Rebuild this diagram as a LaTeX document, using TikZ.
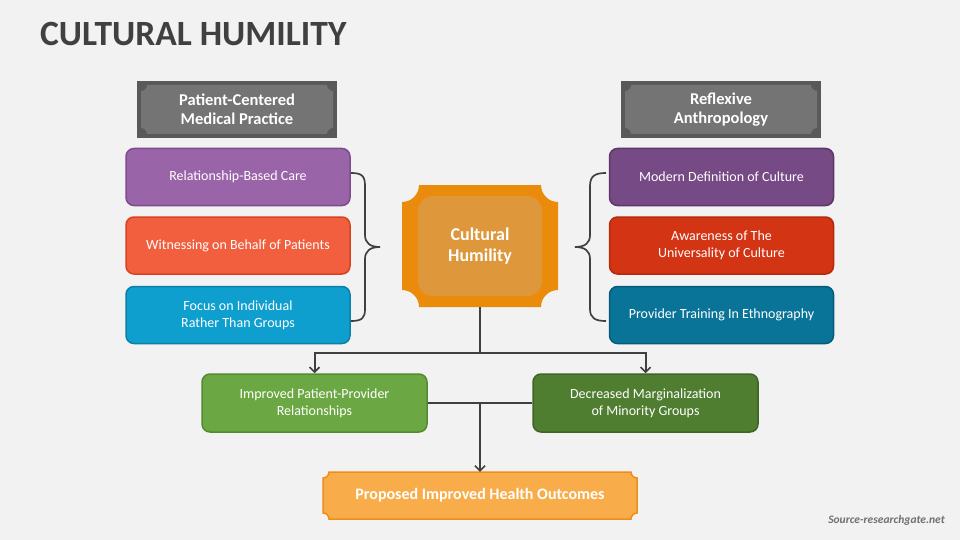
\documentclass[tikz,border=0pt]{standalone}
\usepackage{fontspec}
\setmainfont{Carlito}
\usetikzlibrary{arrows.meta}
\definecolor{bg}{HTML}{F2F2F2}
\definecolor{titlec}{HTML}{404040}
\definecolor{linec}{HTML}{404040}
\definecolor{hdout}{HTML}{595959}
\definecolor{hdin}{HTML}{747474}
\definecolor{purL}{HTML}{9A64A8}\definecolor{purLd}{HTML}{7E4C8C}
\definecolor{redL}{HTML}{F15F3F}\definecolor{redLd}{HTML}{D84222}
\definecolor{bluL}{HTML}{0E9FCF}\definecolor{bluLd}{HTML}{0C80A8}
\definecolor{purR}{HTML}{764A85}\definecolor{purRd}{HTML}{5D366B}
\definecolor{redR}{HTML}{D23414}\definecolor{redRd}{HTML}{B52A0D}
\definecolor{bluR}{HTML}{0A7398}\definecolor{bluRd}{HTML}{085C7A}
\definecolor{grnL}{HTML}{6BA843}\definecolor{grnLd}{HTML}{538B2F}
\definecolor{grnR}{HTML}{4F7E31}\definecolor{grnRd}{HTML}{3E6526}
\definecolor{orout}{HTML}{EA8B0B}
\definecolor{orin}{HTML}{DE973A}
\definecolor{orB}{HTML}{F8AD4A}\definecolor{orBd}{HTML}{EE8E1A}
\definecolor{srcc}{HTML}{707070}
\begin{document}
\begin{tikzpicture}[x=1pt,y=-1pt,
  cv/.style n args={5}{insert path={(#1+#5,#2) -- (#3-#5,#2)
     arc[start angle=180,end angle=90,radius=#5] -- (#3,#4-#5)
     arc[start angle=270,end angle=180,radius=#5] -- (#1+#5,#4)
     arc[start angle=0,end angle=-90,radius=#5] -- (#1,#2+#5)
     arc[start angle=90,end angle=0,radius=#5] -- cycle}},
  box/.style={rounded corners=8pt, line width=1.5pt, minimum width=224pt,
     minimum height=57pt, text=white, align=center, inner sep=0pt,
     font=\fontsize{14}{17}\selectfont},
  hdtext/.style={text=white, align=center, inner sep=0pt,
     font=\fontsize{16.5}{18.5}\selectfont\bfseries},
  conn/.style={draw=linec, line width=2pt},
  arr/.style={conn, -{Straight Barb[length=5pt,width=10pt,line width=1.6pt]}},
  brace/.style={draw=linec, line width=1.7pt}]
\useasboundingbox (0,0) rectangle (960,540);
\fill[bg] (0,0) rectangle (960,540);
% title
\node[anchor=base west, inner sep=0pt, text=titlec,
  font=\fontsize{35.5}{40}\selectfont\bfseries] (title) at (40,46) {CULTURAL HUMILITY};
% headers
\fill[hdout] (137,81) rectangle (337,138);
\fill[hdin, cv={141}{85}{333}{134}{6}];
\node[hdtext] (hL) at (237,109.5) {Patient-Centered\\Medical Practice};
\fill[hdout] (621,81) rectangle (821,138);
\fill[hdin, cv={625}{85}{817}{134}{6}];
\node[hdtext] (hR) at (721,109.5) {Reflexive\\Anthropology};
% left boxes
\node[box, fill=purL, draw=purLd] (L1) at (238,177) {Relationship-Based Care};
\node[box, fill=redL, draw=redLd] (L2) at (238,245.5) {Witnessing on Behalf of Patients};
\node[box, fill=bluL, draw=bluLd] (L3) at (238,315) {Focus on Individual\\Rather Than Groups};
% right boxes
\node[box, fill=purR, draw=purRd] (R1) at (721.5,177) {Modern Definition of Culture};
\node[box, fill=redR, draw=redRd] (R2) at (721.5,245.5) {Awareness of The\\Universality of Culture};
\node[box, fill=bluR, draw=bluRd] (R3) at (721.5,315) {Provider Training In Ethnography};
% braces
\draw[brace] (351,173) .. controls (362,173) and (365,176) .. (365,186) -- (365,235)
  .. controls (365,243) and (370,247) .. (380,247)
  .. controls (370,247) and (365,251) .. (365,259) -- (365,309)
  .. controls (365,318) and (362,321) .. (351,321);
\draw[brace] (606,173) .. controls (595,173) and (590,176) .. (590,186) -- (590,235)
  .. controls (590,243) and (585,247) .. (575,247)
  .. controls (585,247) and (590,251) .. (590,259) -- (590,309)
  .. controls (590,318) and (595,321) .. (606,321);
% center
\fill[orout, cv={402}{185}{558}{307}{17}];
\fill[orin, rounded corners=15pt] (418,196) rectangle (542,296);
\node[minimum width=156pt, minimum height=122pt, inner sep=0pt, text=white, align=center,
  font=\fontsize{18}{21.5}\selectfont\bfseries] (C) at (480,246) {Cultural\\Humility};
% green boxes
\node[box, fill=grnL, draw=grnLd, minimum width=225pt, minimum height=58pt] (G1) at (314.5,403) {Improved Patient-Provider\\Relationships};
\node[box, fill=grnR, draw=grnRd, minimum width=225pt, minimum height=58pt] (G2) at (645.5,403) {Decreased Marginalization\\of Minority Groups};
% bottom
\filldraw[fill=orB, draw=orBd, line width=1.5pt, cv={323}{472}{637}{519}{6}];
\node[minimum width=314pt, minimum height=47pt, inner sep=0pt, text=white,
  font=\fontsize{16}{19}\selectfont\bfseries] (B) at (480,495.5) {Proposed Improved Health Outcomes};
% connectors
\coordinate (J) at (480,353);
\draw[conn] (C.south) -- (J);
\draw[arr] (J) -| (G1.north);
\draw[arr] (J) -| (G2.north);
\draw[conn] (G1.east) -- (G2.west);
\draw[arr] (G1.east -| C.south) -- (B.north);
% source
\node[anchor=base east, inner sep=0pt, text=srcc,
  font=\fontsize{11.5}{13}\selectfont\bfseries\itshape] (src) at (945,523) {Source-researchgate.net};
\end{tikzpicture}
\end{document}
